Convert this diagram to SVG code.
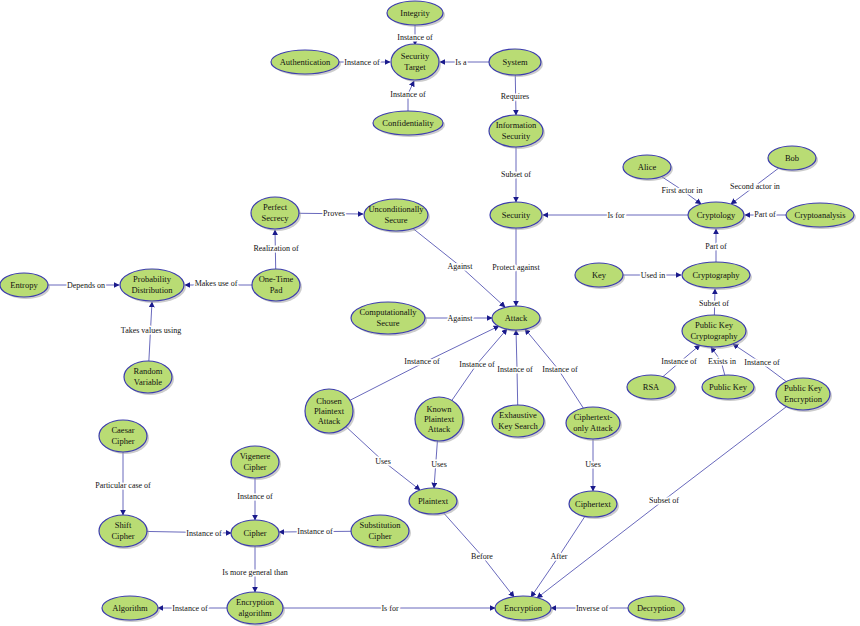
<svg xmlns="http://www.w3.org/2000/svg" width="860" height="626" viewBox="0 0 860 626">
<style>
.n ellipse.s{fill:#9a9a9a;opacity:.5}
.n ellipse.f{fill:#b9dc74;stroke:#3c3cae;stroke-width:1.2}
text{font-family:"Liberation Serif",serif;font-size:8.5px;fill:#111;text-anchor:middle}
#edges path{fill:none;stroke:#5858b4;stroke-width:.9;marker-end:url(#a)}
#edges text{font-size:8px;paint-order:stroke;stroke:#fff;stroke-width:3px;stroke-linejoin:round}
</style>
<defs><marker id="a" viewBox="0 0 10 10" refX="9" refY="5" markerWidth="6" markerHeight="6" orient="auto" markerUnits="userSpaceOnUse"><path d="M0,0 L10,5 L0,10 z" fill="#1a1a8c"/></marker></defs>
<rect width="860" height="626" fill="#fff"/>
<g id="edges">
<path d="M415,13 L415,45"/><text x="415" y="40">Instance of</text>
<path d="M305,62 L390,62"/><text x="362" y="65">Instance of</text>
<path d="M515,62 L440,62"/><text x="461" y="65">Is a</text>
<path d="M408,123 L408,94 L414,81"/><text x="408" y="97">Instance of</text>
<path d="M515,62 L516,115"/><text x="515" y="99">Requires</text>
<path d="M516,131 L516,202"/><text x="516" y="177">Subset of</text>
<path d="M647,167 L682,190 L701,204"/><text x="682" y="193">First actor in</text>
<path d="M792,158 L755,186 L731,204"/><text x="755" y="189">Second actor in</text>
<path d="M820,215 L745,215"/><text x="765" y="217">Part of</text>
<path d="M716,215 L543,215"/><text x="616" y="218">Is for</text>
<path d="M716,275 L716,229"/><text x="716" y="249">Part of</text>
<path d="M275,213 L363,214"/><text x="334" y="216">Proves</text>
<path d="M276,285 L275,230"/><text x="276" y="251">Realization of</text>
<path d="M276,285 L185,285"/><text x="216" y="286">Makes use of</text>
<path d="M24,285 L119,285"/><text x="86" y="288">Depends on</text>
<path d="M148,377 L152,302"/><text x="151" y="333">Takes values using</text>
<path d="M599,275 L681,275"/><text x="653" y="278">Used in</text>
<path d="M714,331 L715,289"/><text x="714" y="306">Subset of</text>
<path d="M651,387 L681,361 L700,345"/><text x="679" y="364">Instance of</text>
<path d="M728,387 L721,361 L711,347"/><text x="722" y="364">Exists in</text>
<path d="M803,394 L760,362 L733,344"/><text x="762" y="365">Instance of</text>
<path d="M516,215 L516,306"/><text x="516" y="270">Protect against</text>
<path d="M396,215 L460,266 L505,307"/><text x="460" y="269">Against</text>
<path d="M388,318 L492,318"/><text x="460" y="321">Against</text>
<path d="M329,411 L427,361 L499,326"/><text x="422" y="364">Instance of</text>
<path d="M439,419 L477,364 L507,329"/><text x="477" y="367">Instance of</text>
<path d="M518,421 L517,369 L516,330"/><text x="515" y="372">Instance of</text>
<path d="M593,423 L558,369 L525,329"/><text x="560" y="372">Instance of</text>
<path d="M329,411 L383,461 L420,490"/><text x="383" y="464">Uses</text>
<path d="M439,419 L434,488"/><text x="439" y="467">Uses</text>
<path d="M593,423 L593,491"/><text x="593" y="467">Uses</text>
<path d="M433,501 L482,556 L514,597"/><text x="482" y="559">Before</text>
<path d="M593,504 L559,556 L531,597"/><text x="559" y="559">After</text>
<path d="M803,394 L664,500 L537,598"/><text x="664" y="503">Subset of</text>
<path d="M656,608 L551,608"/><text x="592" y="611">Inverse of</text>
<path d="M255,608 L495,608"/><text x="390" y="611">Is for</text>
<path d="M255,608 L158,608"/><text x="190" y="611">Instance of</text>
<path d="M255,533 L255,592"/><text x="255" y="575">Is more general than</text>
<path d="M123,531 L231,533"/><text x="204" y="536">Instance of</text>
<path d="M255,462 L255,520"/><text x="255" y="499">Instance of</text>
<path d="M380,531 L279,532"/><text x="315" y="534">Instance of</text>
<path d="M123,436 L123,515"/><text x="123" y="488">Particular case of</text>
</g>
<g id="n-integrity" class="n"><ellipse class="s" cx="417" cy="15" rx="28" ry="12"/><ellipse class="f" cx="415" cy="13" rx="28" ry="12"/><text x="415" y="16">Integrity</text></g>
<g id="n-sectarget" class="n"><ellipse class="s" cx="417" cy="64" rx="24" ry="18"/><ellipse class="f" cx="415" cy="62" rx="24" ry="18"/><text x="415" y="59">Security</text><text x="415" y="70">Target</text></g>
<g id="n-auth" class="n"><ellipse class="s" cx="307" cy="64" rx="34" ry="12"/><ellipse class="f" cx="305" cy="62" rx="34" ry="12"/><text x="305" y="65">Authentication</text></g>
<g id="n-system" class="n"><ellipse class="s" cx="517" cy="64" rx="26" ry="13"/><ellipse class="f" cx="515" cy="62" rx="26" ry="13"/><text x="515" y="65">System</text></g>
<g id="n-conf" class="n"><ellipse class="s" cx="410" cy="125" rx="35" ry="12"/><ellipse class="f" cx="408" cy="123" rx="35" ry="12"/><text x="408" y="126">Confidentiality</text></g>
<g id="n-infosec" class="n"><ellipse class="s" cx="518" cy="133" rx="27" ry="16"/><ellipse class="f" cx="516" cy="131" rx="27" ry="16"/><text x="516" y="128">Information</text><text x="516" y="139">Security</text></g>
<g id="n-security" class="n"><ellipse class="s" cx="518" cy="217" rx="26" ry="13"/><ellipse class="f" cx="516" cy="215" rx="26" ry="13"/><text x="516" y="218">Security</text></g>
<g id="n-cryptology" class="n"><ellipse class="s" cx="718" cy="217" rx="28" ry="13"/><ellipse class="f" cx="716" cy="215" rx="28" ry="13"/><text x="716" y="218">Cryptology</text></g>
<g id="n-alice" class="n"><ellipse class="s" cx="649" cy="169" rx="24" ry="12"/><ellipse class="f" cx="647" cy="167" rx="24" ry="12"/><text x="647" y="170">Alice</text></g>
<g id="n-bob" class="n"><ellipse class="s" cx="794" cy="160" rx="24" ry="12"/><ellipse class="f" cx="792" cy="158" rx="24" ry="12"/><text x="792" y="161">Bob</text></g>
<g id="n-cryptoanalysis" class="n"><ellipse class="s" cx="822" cy="217" rx="34" ry="12"/><ellipse class="f" cx="820" cy="215" rx="34" ry="12"/><text x="820" y="218">Cryptoanalysis</text></g>
<g id="n-perfect" class="n"><ellipse class="s" cx="277" cy="215" rx="24" ry="16"/><ellipse class="f" cx="275" cy="213" rx="24" ry="16"/><text x="275" y="210">Perfect</text><text x="275" y="221">Secrecy</text></g>
<g id="n-uncond" class="n"><ellipse class="s" cx="398" cy="217" rx="32" ry="16"/><ellipse class="f" cx="396" cy="215" rx="32" ry="16"/><text x="396" y="212">Unconditionally</text><text x="396" y="223">Secure</text></g>
<g id="n-entropy" class="n"><ellipse class="s" cx="26" cy="287" rx="24" ry="12"/><ellipse class="f" cx="24" cy="285" rx="24" ry="12"/><text x="24" y="288">Entropy</text></g>
<g id="n-probdist" class="n"><ellipse class="s" cx="154" cy="287" rx="32" ry="16"/><ellipse class="f" cx="152" cy="285" rx="32" ry="16"/><text x="152" y="282">Probability</text><text x="152" y="293">Distribution</text></g>
<g id="n-otp" class="n"><ellipse class="s" cx="278" cy="287" rx="24" ry="16"/><ellipse class="f" cx="276" cy="285" rx="24" ry="16"/><text x="276" y="282">One-Time</text><text x="276" y="293">Pad</text></g>
<g id="n-key" class="n"><ellipse class="s" cx="601" cy="277" rx="24" ry="12"/><ellipse class="f" cx="599" cy="275" rx="24" ry="12"/><text x="599" y="278">Key</text></g>
<g id="n-cryptography" class="n"><ellipse class="s" cx="718" cy="277" rx="34" ry="13"/><ellipse class="f" cx="716" cy="275" rx="34" ry="13"/><text x="716" y="278">Cryptography</text></g>
<g id="n-pkc" class="n"><ellipse class="s" cx="716" cy="333" rx="32" ry="16"/><ellipse class="f" cx="714" cy="331" rx="32" ry="16"/><text x="714" y="328">Public Key</text><text x="714" y="339">Cryptography</text></g>
<g id="n-compsec" class="n"><ellipse class="s" cx="390" cy="320" rx="37" ry="16"/><ellipse class="f" cx="388" cy="318" rx="37" ry="16"/><text x="388" y="315">Computationally</text><text x="388" y="326">Secure</text></g>
<g id="n-attack" class="n"><ellipse class="s" cx="518" cy="320" rx="24" ry="12"/><ellipse class="f" cx="516" cy="318" rx="24" ry="12"/><text x="516" y="321">Attack</text></g>
<g id="n-rv" class="n"><ellipse class="s" cx="150" cy="379" rx="24" ry="16"/><ellipse class="f" cx="148" cy="377" rx="24" ry="16"/><text x="148" y="374">Random</text><text x="148" y="385">Variable</text></g>
<g id="n-rsa" class="n"><ellipse class="s" cx="653" cy="389" rx="24" ry="12"/><ellipse class="f" cx="651" cy="387" rx="24" ry="12"/><text x="651" y="390">RSA</text></g>
<g id="n-pubkey" class="n"><ellipse class="s" cx="730" cy="389" rx="26" ry="12"/><ellipse class="f" cx="728" cy="387" rx="26" ry="12"/><text x="728" y="390">Public Key</text></g>
<g id="n-pke" class="n"><ellipse class="s" cx="805" cy="396" rx="27" ry="16"/><ellipse class="f" cx="803" cy="394" rx="27" ry="16"/><text x="803" y="391">Public Key</text><text x="803" y="402">Encryption</text></g>
<g id="n-chosen" class="n"><ellipse class="s" cx="331" cy="413" rx="24" ry="22"/><ellipse class="f" cx="329" cy="411" rx="24" ry="22"/><text x="329" y="404">Chosen</text><text x="329" y="414">Plaintext</text><text x="329" y="424">Attack</text></g>
<g id="n-known" class="n"><ellipse class="s" cx="441" cy="421" rx="24" ry="22"/><ellipse class="f" cx="439" cy="419" rx="24" ry="22"/><text x="439" y="412">Known</text><text x="439" y="422">Plaintext</text><text x="439" y="432">Attack</text></g>
<g id="n-exhaustive" class="n"><ellipse class="s" cx="520" cy="423" rx="26" ry="16"/><ellipse class="f" cx="518" cy="421" rx="26" ry="16"/><text x="518" y="418">Exhaustive</text><text x="518" y="429">Key Search</text></g>
<g id="n-cto" class="n"><ellipse class="s" cx="595" cy="425" rx="27" ry="16"/><ellipse class="f" cx="593" cy="423" rx="27" ry="16"/><text x="593" y="420">Ciphertext-</text><text x="593" y="431">only Attack</text></g>
<g id="n-caesar" class="n"><ellipse class="s" cx="125" cy="438" rx="24" ry="16"/><ellipse class="f" cx="123" cy="436" rx="24" ry="16"/><text x="123" y="433">Caesar</text><text x="123" y="444">Cipher</text></g>
<g id="n-vigenere" class="n"><ellipse class="s" cx="257" cy="464" rx="24" ry="16"/><ellipse class="f" cx="255" cy="462" rx="24" ry="16"/><text x="255" y="459">Vigenere</text><text x="255" y="470">Cipher</text></g>
<g id="n-plaintext" class="n"><ellipse class="s" cx="435" cy="503" rx="24" ry="13"/><ellipse class="f" cx="433" cy="501" rx="24" ry="13"/><text x="433" y="504">Plaintext</text></g>
<g id="n-ciphertext" class="n"><ellipse class="s" cx="595" cy="506" rx="24" ry="13"/><ellipse class="f" cx="593" cy="504" rx="24" ry="13"/><text x="593" y="507">Ciphertext</text></g>
<g id="n-shift" class="n"><ellipse class="s" cx="125" cy="533" rx="24" ry="16"/><ellipse class="f" cx="123" cy="531" rx="24" ry="16"/><text x="123" y="528">Shift</text><text x="123" y="539">Cipher</text></g>
<g id="n-cipher" class="n"><ellipse class="s" cx="257" cy="535" rx="24" ry="13"/><ellipse class="f" cx="255" cy="533" rx="24" ry="13"/><text x="255" y="536">Cipher</text></g>
<g id="n-subst" class="n"><ellipse class="s" cx="382" cy="533" rx="29" ry="16"/><ellipse class="f" cx="380" cy="531" rx="29" ry="16"/><text x="380" y="528">Substitution</text><text x="380" y="539">Cipher</text></g>
<g id="n-algorithm" class="n"><ellipse class="s" cx="132" cy="610" rx="28" ry="12"/><ellipse class="f" cx="130" cy="608" rx="28" ry="12"/><text x="130" y="611">Algorithm</text></g>
<g id="n-encalg" class="n"><ellipse class="s" cx="257" cy="610" rx="28" ry="16"/><ellipse class="f" cx="255" cy="608" rx="28" ry="16"/><text x="255" y="605">Encryption</text><text x="255" y="616">algorithm</text></g>
<g id="n-encryption" class="n"><ellipse class="s" cx="525" cy="610" rx="28" ry="12"/><ellipse class="f" cx="523" cy="608" rx="28" ry="12"/><text x="523" y="611">Encryption</text></g>
<g id="n-decryption" class="n"><ellipse class="s" cx="658" cy="610" rx="28" ry="12"/><ellipse class="f" cx="656" cy="608" rx="28" ry="12"/><text x="656" y="611">Decryption</text></g>
</svg>
